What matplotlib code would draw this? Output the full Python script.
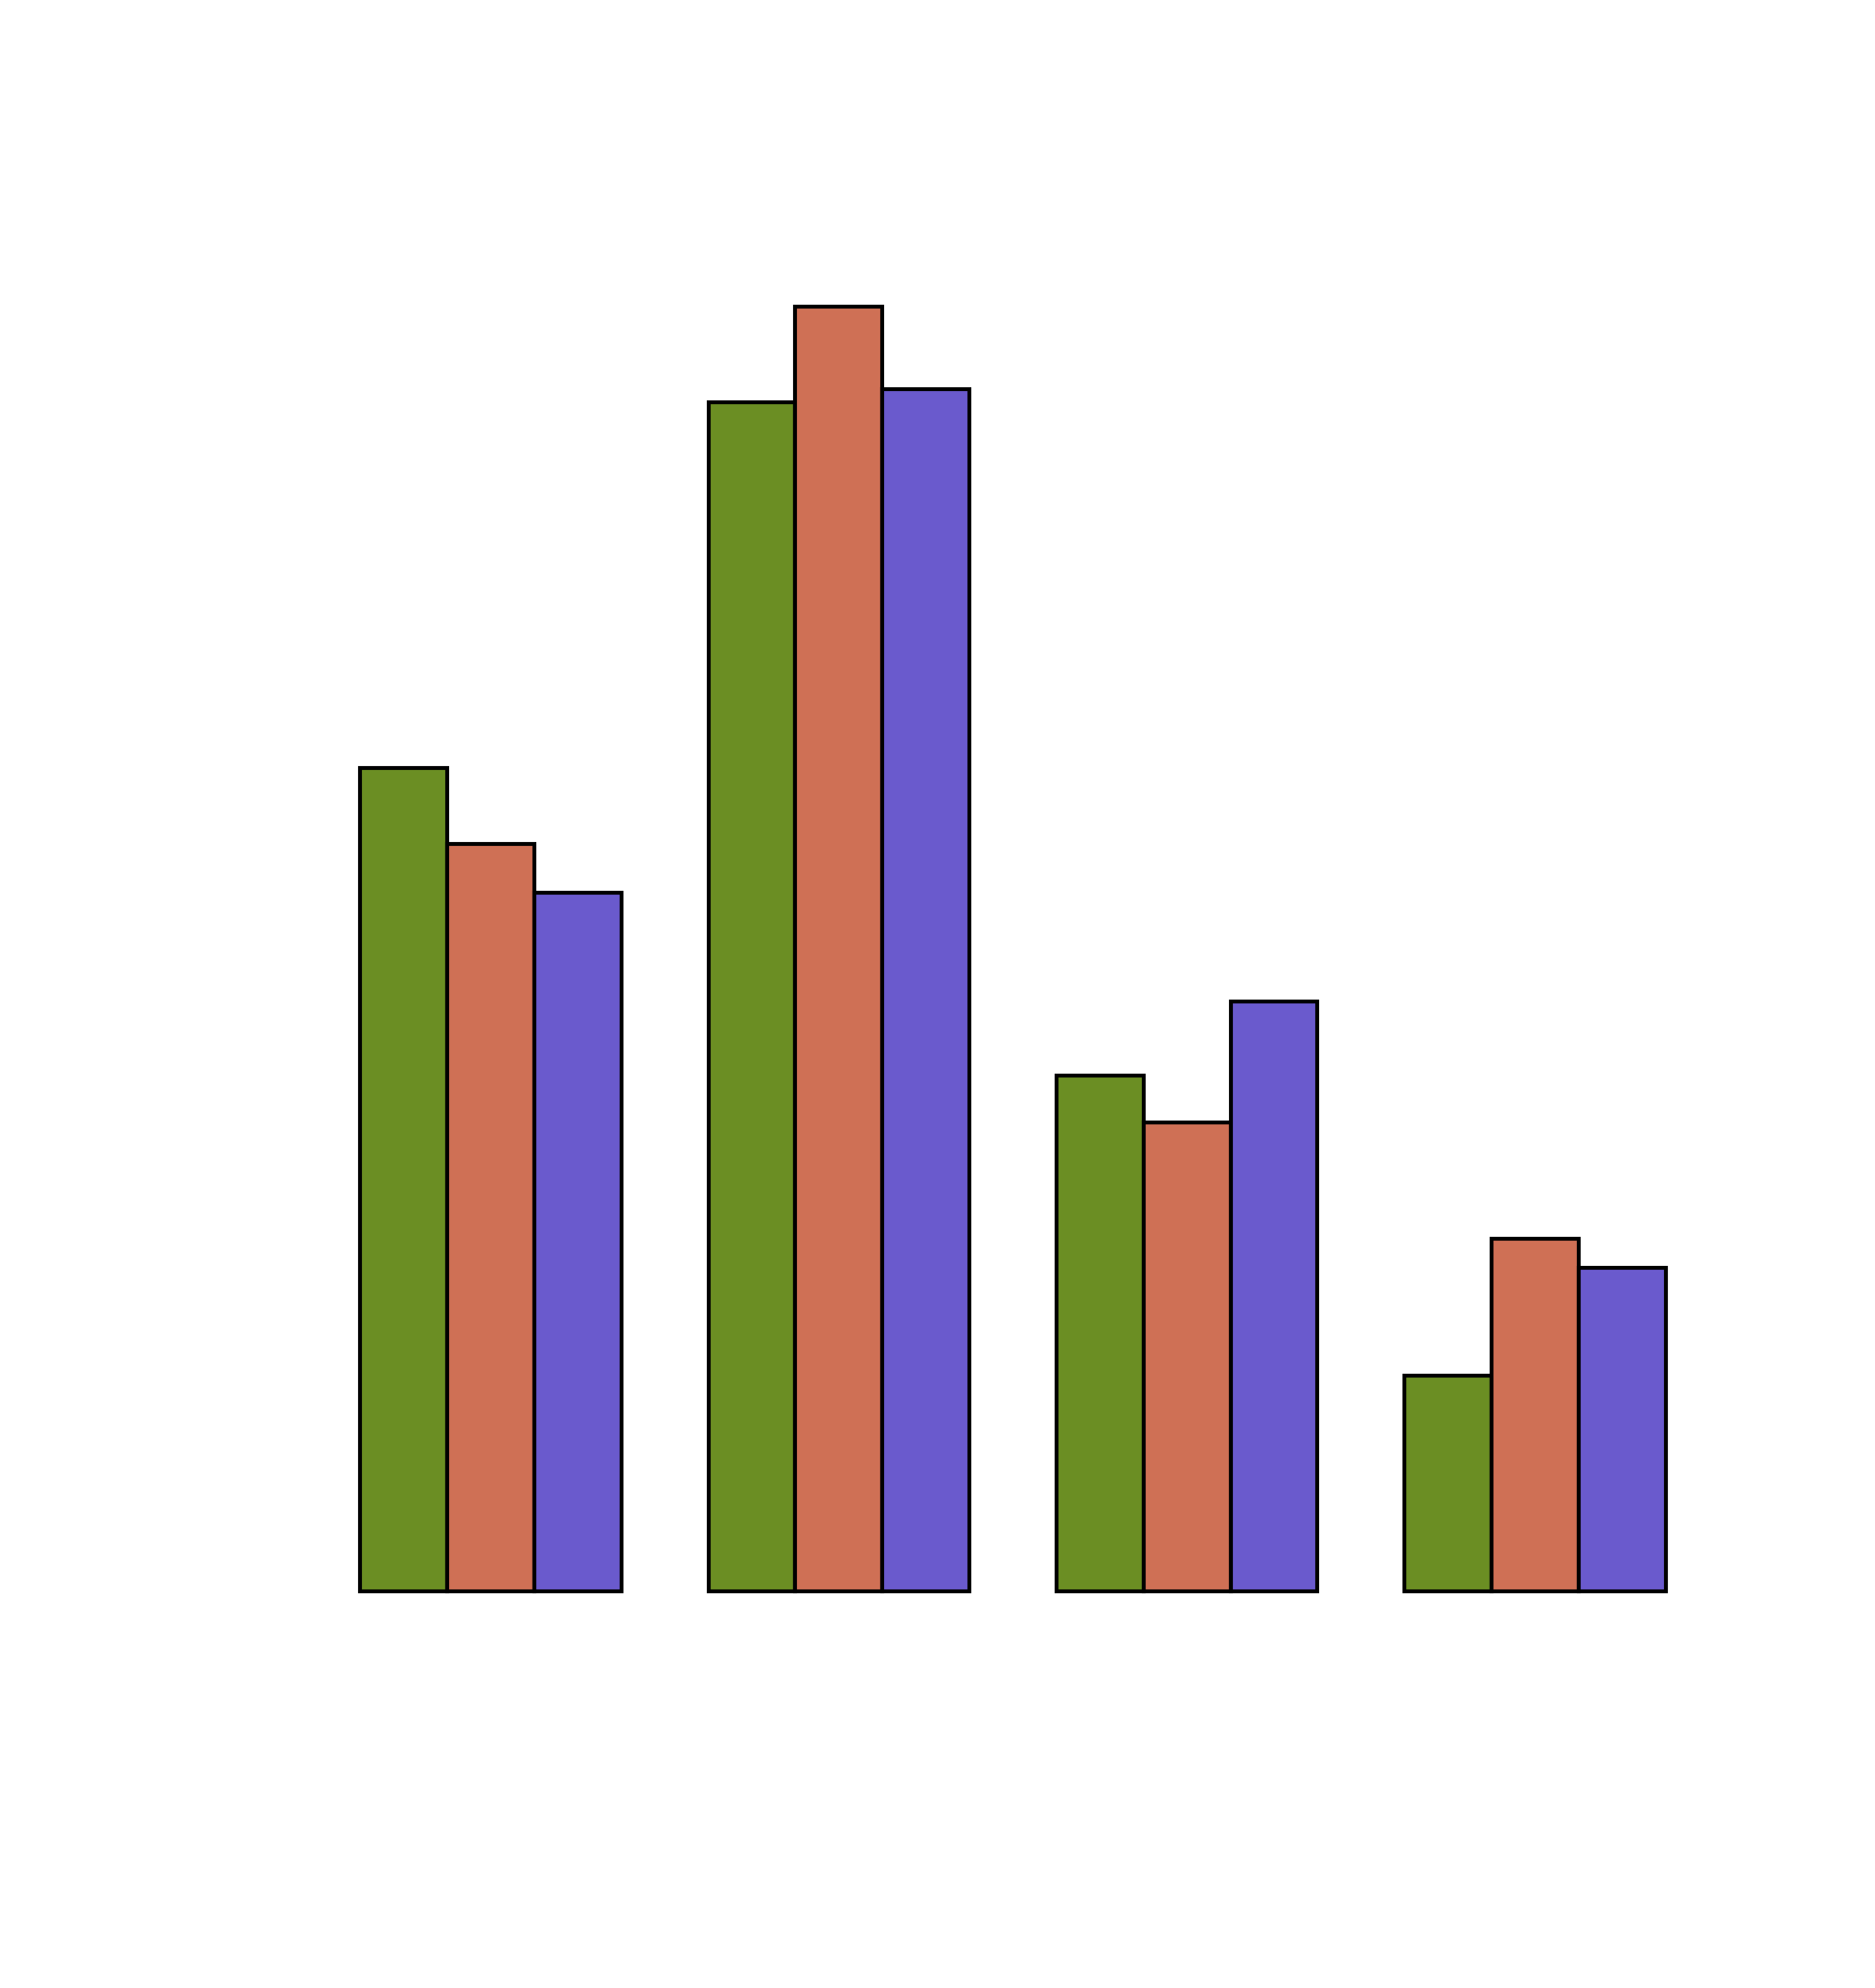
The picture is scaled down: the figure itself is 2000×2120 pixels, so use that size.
import matplotlib
matplotlib.use('Agg')
import matplotlib.pyplot as plt
import numpy as np

# bar heights (arbitrary units), three series per group
series_a = [6.49, 9.38, 4.07, 1.70]
series_b = [5.89, 10.13, 3.70, 2.78]
series_c = [5.51, 9.48, 4.65, 2.55]
colors = ['#6B8E23', '#CF7055', '#6A5ACD']

fig = plt.figure(figsize=(10, 10.6), dpi=200)
# R style barplot, beside=TRUE, no axes
W, H = 1478, 1568
ax = fig.add_axes([284 / W, 1 - 1255 / H, (1313 - 284) / W, (1255 - 242) / H])

starts = np.arange(4) * 4 + 1
for k, (vals, col) in enumerate(zip([series_a, series_b, series_c], colors)):
    ax.bar(starts + k, vals, width=1, align='edge', color=col,
           edgecolor='black', linewidth=1.5, clip_on=False)

ax.set_xlim(1, 16)
ax.set_ylim(0, max(series_b))
ax.axis('off')

fig.savefig('out.png', dpi=200)
